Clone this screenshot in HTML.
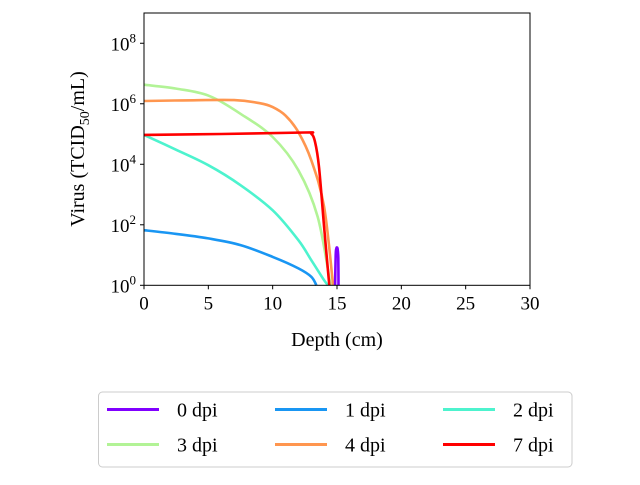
<!DOCTYPE html>
<html><head><meta charset="utf-8"><style>
body{margin:0;background:#fff;}
svg text{font-family:"Liberation Serif",serif;fill:#000;}
</style></head><body>
<svg id="chart" width="640" height="480" xmlns="http://www.w3.org/2000/svg">
<rect x="0" y="0" width="640" height="480" fill="#fff"/>
<g id="series"></g>
<g id="axes"></g>
<text x="337" y="346" font-size="20" text-anchor="middle">Depth (cm)</text>
<text transform="translate(84,149) rotate(-90)" font-size="20" text-anchor="middle">Virus (TCID<tspan font-size="14" dy="5">50</tspan><tspan dy="-5">/mL)</tspan></text>
<g id="legend">
<rect x="98.5" y="392" width="473.5" height="75" rx="4" fill="#fff" stroke="#ccc" stroke-width="1"/>
</g>
</svg>
<script>
const xTicks=[0,5,10,15,20,25,30];
const yTicks=[0,2,4,6,8];
const seriesNames=["0 dpi","1 dpi","2 dpi","3 dpi","4 dpi","7 dpi"];
const seriesColors=["#8000ff","#1996f3","#4df3ce","#b2f396","#ff964f","#ff0000"];
const depth0=[14.85,14.9,14.95,15.0,15.05,15.1,15.12];
const log0=[0,1.0,1.22,1.25,1.2,0.9,0];
const depth1=[0,2.5,5,7.5,10,12,13,13.4];
const log1=[1.82,1.7,1.55,1.33,0.94,0.56,0.28,0];
const depth2=[0,2.5,5,7.5,10,12,13,14,14.3];
const log2=[4.97,4.48,3.97,3.31,2.48,1.49,0.83,0.17,0];
const depth3=[0,2.5,5,7.5,10,12,13.5,14.5];
const log3=[6.63,6.5,6.27,5.67,4.9,3.8,2.26,0];
const depth4=[0,3,7,9,10,11,12,13,14,14.7];
const log4=[6.09,6.11,6.12,6.02,5.89,5.61,5.06,4.13,2.59,0];
const depth7=[0,6,12.5,13,13.3,13.6,14,14.4];
const log7=[4.97,5.0,5.05,5.01,4.73,3.91,1.93,0];
const X0=144,X1=530,Y0=285.3,Y1=13;
const xs=v=>X0+(v/30)*(X1-X0);
const ys=v=>Y0-(v/9)*(Y0-Y1);
const NS="http://www.w3.org/2000/svg";
const sg=document.getElementById('series');
const allD=[depth0,depth1,depth2,depth3,depth4,depth7];
const allL=[log0,log1,log2,log3,log4,log7];
function smoothPath(pts){
  let d='M'+pts[0][0].toFixed(1)+','+pts[0][1].toFixed(1);
  for(let k=0;k<pts.length-1;k++){
    const p0=pts[Math.max(k-1,0)],p1=pts[k],p2=pts[k+1],p3=pts[Math.min(k+2,pts.length-1)];
    const c1=[p1[0]+(p2[0]-p0[0])/6,p1[1]+(p2[1]-p0[1])/6];
    const c2=[p2[0]-(p3[0]-p1[0])/6,p2[1]-(p3[1]-p1[1])/6];
    d+=' C'+c1[0].toFixed(1)+','+c1[1].toFixed(1)+' '+c2[0].toFixed(1)+','+c2[1].toFixed(1)+' '+p2[0].toFixed(1)+','+p2[1].toFixed(1);
  }
  return d;
}
const order=[3,4,2,1,5,0];
order.forEach(i=>{
  const p=document.createElementNS(NS,'path');
  p.setAttribute('d',smoothPath(allD[i].map((d,k)=>[xs(d),ys(allL[i][k])])));
  p.setAttribute('fill','none');p.setAttribute('stroke',seriesColors[i]);p.setAttribute('stroke-width','2.6');
  p.setAttribute('stroke-linejoin','round');
  
  
  sg.appendChild(p);
});
const ax=document.getElementById('axes');
const fr=document.createElementNS(NS,'rect');
fr.setAttribute('x',X0);fr.setAttribute('y',Y1);fr.setAttribute('width',X1-X0);fr.setAttribute('height',Y0-Y1);
fr.setAttribute('fill','none');fr.setAttribute('stroke','#000');fr.setAttribute('stroke-width','1');


ax.appendChild(fr);
xTicks.forEach(t=>{
  const l=document.createElementNS(NS,'line');
  l.setAttribute('x1',xs(t));l.setAttribute('x2',xs(t));l.setAttribute('y1',Y0);l.setAttribute('y2',Y0+4);l.setAttribute('stroke','#000');
  
  
  ax.appendChild(l);
  const tx=document.createElementNS(NS,'text');
  tx.setAttribute('x',xs(t));tx.setAttribute('y',Y0+24);tx.setAttribute('font-size','19');tx.setAttribute('text-anchor','middle');
  tx.textContent=t;
  
  
  ax.appendChild(tx);
});
yTicks.forEach(t=>{
  const l=document.createElementNS(NS,'line');
  l.setAttribute('x1',X0-4);l.setAttribute('x2',X0);l.setAttribute('y1',ys(t));l.setAttribute('y2',ys(t));l.setAttribute('stroke','#000');
  
  
  ax.appendChild(l);
  const tx=document.createElementNS(NS,'text');
  tx.setAttribute('x',X0-8);tx.setAttribute('y',ys(t)+7);tx.setAttribute('font-size','19');tx.setAttribute('text-anchor','end');
  tx.innerHTML='10<tspan font-size="13" dy="-8">'+t+'</tspan>';
  
  
  ax.appendChild(tx);
});
const lg=document.getElementById('legend');
seriesNames.forEach((n,i)=>{
  const col=i%3,row=Math.floor(i/3);
  const lx=107+col*168,ly=409.5+row*35;
  const l=document.createElementNS(NS,'line');
  l.setAttribute('x1',lx);l.setAttribute('x2',lx+52);l.setAttribute('y1',ly);l.setAttribute('y2',ly);
  l.setAttribute('stroke',seriesColors[i]);l.setAttribute('stroke-width','3');
  
  
  lg.appendChild(l);
  const tx=document.createElementNS(NS,'text');
  tx.setAttribute('x',lx+70);tx.setAttribute('y',ly+7);tx.setAttribute('font-size','20');
  tx.textContent=n;
  
  
  lg.appendChild(tx);
});
</script>
</body></html>
